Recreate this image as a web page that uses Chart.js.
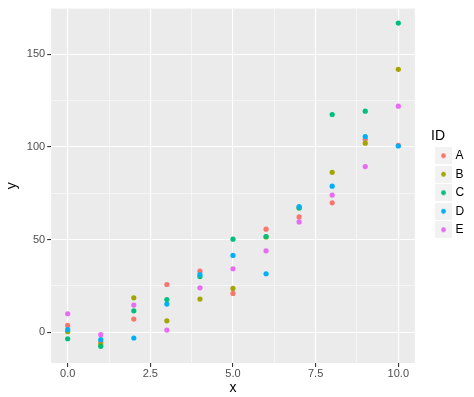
<!DOCTYPE html>
<html>
<head>
<meta charset="utf-8">
<script src="https://cdn.jsdelivr.net/npm/chart.js@4/dist/chart.umd.min.js"></script>
<style>
  html, body { margin: 0; padding: 0; background: #ffffff; }
  #wrap { width: 474px; height: 397px; }
</style>
</head>
<body>
<div id="wrap"><canvas id="chart" width="474" height="397"></canvas></div>
<script>
const xValues = [0, 1, 2, 3, 4, 5, 6, 7, 8, 9, 10];
const ids = ["A", "B", "C", "D", "E"];
const valuesA = [3.6, -5.5, 7.0, 25.7, 32.9, 20.9, 55.6, 62.2, 69.8, 104.2, 100.8];
const valuesB = [0.2, -6.8, 18.5, 6.1, 17.8, 23.6, 51.4, 67.2, 86.3, 102.0, 141.9];
const valuesC = [-3.6, -7.7, 11.5, 17.6, 30.0, 50.2, 51.6, 67.0, 117.5, 119.3, 166.9];
const valuesD = [1.3, -4.1, -3.2, 15.1, 31.1, 41.4, 31.5, 67.8, 78.8, 105.6, 100.5];
const valuesE = [9.9, -1.4, 14.6, 1.1, 23.9, 34.2, 43.9, 59.5, 74.0, 89.4, 122.0];
const colors = ["#F8766D", "#A3A500", "#00BF7D", "#00B0F6", "#E76BF3"];
const xMajor = [0, 2.5, 5, 7.5, 10];
const xMinor = [1.25, 3.75, 6.25, 8.75];
const yMajor = [0, 50, 100, 150];
const yMinor = [25, 75, 125];

const series = [valuesA, valuesB, valuesC, valuesD, valuesE];

// legend key: grey square with a dot, like ggplot
function keyIcon(color) {
    const c = document.createElement("canvas");
    c.width = 17; c.height = 17;
    const g = c.getContext("2d");
    g.fillStyle = "#F2F2F2";
    g.fillRect(0, 0, 17, 17);
    g.fillStyle = color;
    g.beginPath();
    g.arc(8.5, 8.5, 2.4, 0, Math.PI * 2);
    g.fill();
    return c;
}

// later groups on top (E over A), as ggplot draws them
const datasets = ids.map((id, i) => ({
    label: id,
    data: xValues.map((x, j) => ({ x: x, y: series[i][j] })),
    backgroundColor: colors[i],
    borderWidth: 0,
    pointRadius: 2.6,
    pointStyle: "circle",
    order: ids.length - i
}));

const panelBg = {
    id: "panelBg",
    beforeDraw(chart) {
        const a = chart.chartArea;
        const ctx = chart.ctx;
        ctx.save();
        ctx.fillStyle = "#EBEBEB";
        ctx.fillRect(a.left, a.top, a.right - a.left, a.bottom - a.top);
        ctx.restore();
    }
};

// ggplot puts the legend a bit away from the panel and centres it on the panel
const legendPlace = {
    id: "legendPlace",
    afterLayout(chart) {
        const L = chart.legend;
        const w = L.width;
        L.left = 431;
        L.right = 431 + w;
        L.top = chart.chartArea.top;
        L.bottom = chart.chartArea.bottom;
        L.height = L.bottom - L.top;
    }
};

function withMinor(major, minor) {
    return major.concat(minor).sort((a, b) => a - b).map(v => ({ value: v }));
}

const fam = "Liberation Sans, Arial, sans-serif";
const tickFont = { family: fam, size: 11 };

new Chart(document.getElementById("chart").getContext("2d"), {
    type: "scatter",
    data: { datasets },
    plugins: [panelBg, legendPlace],
    options: {
        responsive: false,
        animation: false,
        layout: { padding: { top: 7, right: 16, bottom: 0, left: 4 } },
        scales: {
            x: {
                type: "linear",
                min: -0.5,
                max: 10.5,
                afterBuildTicks: s => { s.ticks = withMinor(xMajor, xMinor); },
                ticks: {
                    autoSkip: false,
                    maxRotation: 0,
                    padding: 0,
                    color: "#4D4D4D",
                    font: tickFont,
                    callback: v => xMajor.includes(v) ? v.toFixed(1) : ""
                },
                grid: {
                    color: "#FFFFFF",
                    lineWidth: c => xMajor.includes(c.tick.value) ? 1.1 : 0.5,
                    tickColor: c => xMajor.includes(c.tick.value) ? "#333333" : "rgba(0,0,0,0)",
                    tickLength: 4
                },
                border: { display: false },
                title: {
                    display: true,
                    text: "x",
                    color: "#000000",
                    font: { family: fam, size: 14 },
                    padding: { top: 0, bottom: 0 }
                }
            },
            y: {
                type: "linear",
                min: -16.7,
                max: 174.7,
                afterBuildTicks: s => { s.ticks = withMinor(yMajor, yMinor); },
                ticks: {
                    autoSkip: false,
                    padding: 2,
                    color: "#4D4D4D",
                    font: tickFont,
                    callback: v => yMajor.includes(v) ? String(v) : ""
                },
                grid: {
                    color: "#FFFFFF",
                    lineWidth: c => yMajor.includes(c.tick.value) ? 1.1 : 0.5,
                    tickColor: c => yMajor.includes(c.tick.value) ? "#333333" : "rgba(0,0,0,0)",
                    tickLength: 4
                },
                border: { display: false },
                title: {
                    display: true,
                    text: "y",
                    color: "#000000",
                    font: { family: fam, size: 14 },
                    padding: { top: 0, bottom: 4 }
                }
            }
        },
        plugins: {
            tooltip: { enabled: false },
            legend: {
                position: "right",
                align: "center",
                title: {
                    display: true,
                    text: "ID",
                    position: "start",
                    color: "#000000",
                    font: { family: fam, size: 14, lineHeight: 1 },
                    padding: { top: 0, bottom: 0 }
                },
                labels: {
                    usePointStyle: true,
                    color: "#000000",
                    font: { family: fam, size: 12 },
                    padding: 6.5,
                    generateLabels: chart => chart.data.datasets.map((d, i) => ({
                        text: d.label,
                        pointStyle: keyIcon(colors[i]),
                        fillStyle: colors[i],
                        strokeStyle: colors[i],
                        lineWidth: 0,
                        hidden: false,
                        datasetIndex: i
                    }))
                }
            }
        }
    }
});
</script>
</body>
</html>
